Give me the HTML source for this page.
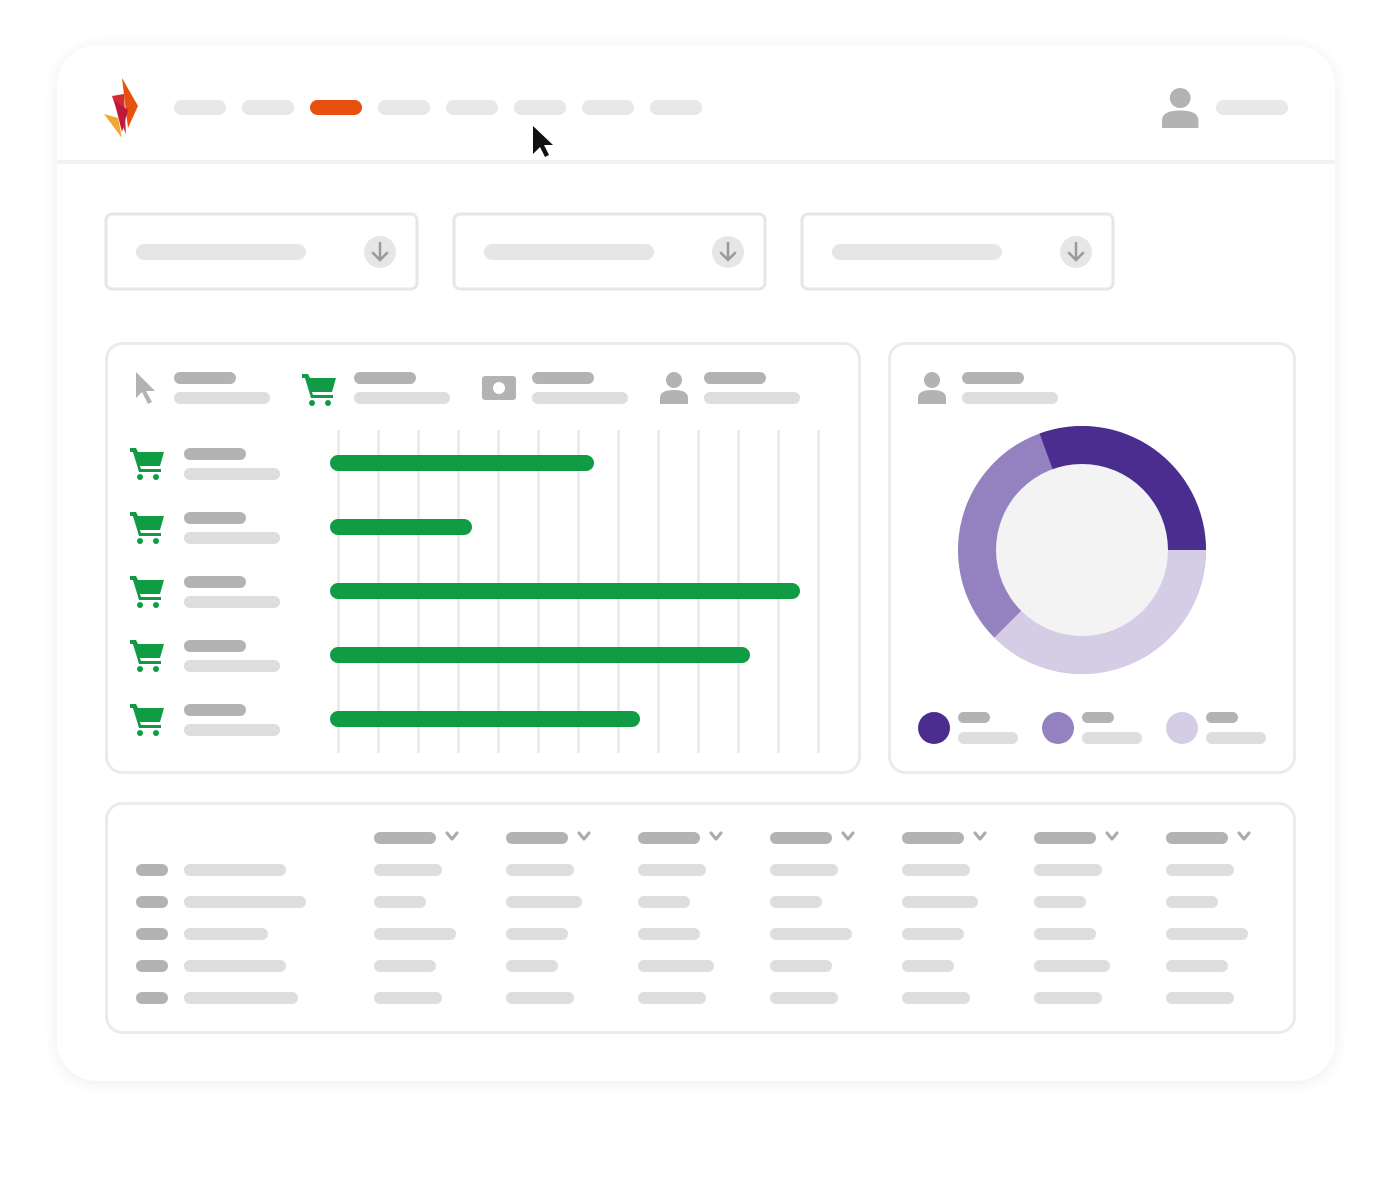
<!DOCTYPE html>
<html><head><meta charset="utf-8"><style>
html,body{margin:0;padding:0;background:#fff;width:1400px;height:1200px;overflow:hidden;font-family:"Liberation Sans",sans-serif}
</style></head><body>
<svg width="1400" height="1200" viewBox="0 0 1400 1200" xmlns="http://www.w3.org/2000/svg">
<defs>
<filter id="sh" x="-10%" y="-10%" width="120%" height="120%"><feGaussianBlur stdDeviation="8"/></filter>
<g id="cart" fill="#109c45">
<path d="M0 2 h6 l2 4 h26 l-4 14 h-20 l1 3 h20 v3 h-22 l-6 -20 h-3z"/>
<circle cx="10" cy="31" r="3"/><circle cx="26" cy="31" r="3"/>
</g>
<g id="person" fill="#b3b3b3">
<circle cx="14" cy="8" r="8"/><path d="M0 32 v-6 q0 -8 14 -8 q14 0 14 8 v6z"/>
</g>
</defs>
<rect x="57" y="47" width="1278" height="1036" rx="40" fill="#000" opacity="0.07" filter="url(#sh)"/>
<rect x="57" y="45" width="1278" height="1036" rx="40" fill="#fff"/>
<rect x="57" y="160" width="1278" height="4" fill="#f2f2f2"/>
<!-- logo -->
<path d="M104 114 l14 4 l4 20 z" fill="#f2a531"/>
<path d="M112 96 l12 -2 l2 40 l-6 -14z" fill="#d42a36"/>
<path d="M122 78 l16 28 l-10 22 z" fill="#e8500e"/>
<path d="M114 100 l14 10 l-6 22 z" fill="#c0173c"/>
<!-- nav -->
<g fill="#e8e8e8">
<rect x="174" y="100" width="52" height="15" rx="7.5"/>
<rect x="242" y="100" width="52" height="15" rx="7.5"/>
<rect x="378" y="100" width="52" height="15" rx="7.5"/>
<rect x="446" y="100" width="52" height="15" rx="7.5"/>
<rect x="514" y="100" width="52" height="15" rx="7.5"/>
<rect x="582" y="100" width="52" height="15" rx="7.5"/>
<rect x="650" y="100" width="52" height="15" rx="7.5"/>
<rect x="1216" y="100" width="72" height="15" rx="7.5"/>
</g>
<rect x="310" y="100" width="52" height="15" rx="7.5" fill="#e8500e"/>
<g transform="translate(1162,88) scale(1.3,1.25)"><use href="#person" fill="#c4c4c4"/></g>
<path d="M533 126 v28 l7 -7 l5 10 l4 -2 l-5 -10 h9 z" fill="#111"/>
<!-- dropdowns -->
<g fill="none" stroke="#e6e6e6" stroke-width="3">
<rect x="106" y="214" width="311" height="75" rx="6"/>
<rect x="454" y="214" width="311" height="75" rx="6"/>
<rect x="802" y="214" width="311" height="75" rx="6"/>
</g>
<g fill="#e6e6e6">
<rect x="136" y="244" width="170" height="16" rx="8"/>
<rect x="484" y="244" width="170" height="16" rx="8"/>
<rect x="832" y="244" width="170" height="16" rx="8"/>
<circle cx="380" cy="252" r="16"/><circle cx="728" cy="252" r="16"/><circle cx="1076" cy="252" r="16"/>
</g>
<g stroke="#9a9a9a" stroke-width="2.5" fill="none" stroke-linecap="round">
<path d="M380 243 v16 M373 253 l7 7 l7 -7"/>
<path d="M728 243 v16 M721 253 l7 7 l7 -7"/>
<path d="M1076 243 v16 M1069 253 l7 7 l7 -7"/>
</g>
<!-- panel 1 -->
<rect x="106.5" y="343.5" width="753" height="429" rx="16" fill="none" stroke="#ebebeb" stroke-width="3"/>
<path d="M136 372 v26 l6 -6 l6 12 l4 -2 l-6 -11 h9 z" fill="#b3b3b3"/>
<g transform="translate(302,372)"><use href="#cart"/></g>
<rect x="482" y="376" width="34" height="24" rx="3" fill="#b3b3b3"/>
<circle cx="499" cy="388" r="6" fill="#fff"/>
<g transform="translate(660,372)"><use href="#person"/></g>
<g fill="#b3b3b3">
<rect x="174" y="372" width="62" height="12" rx="6"/><rect x="354" y="372" width="62" height="12" rx="6"/>
<rect x="532" y="372" width="62" height="12" rx="6"/><rect x="704" y="372" width="62" height="12" rx="6"/>
</g>
<g fill="#dedede">
<rect x="174" y="392" width="96" height="12" rx="6"/><rect x="354" y="392" width="96" height="12" rx="6"/>
<rect x="532" y="392" width="96" height="12" rx="6"/><rect x="704" y="392" width="96" height="12" rx="6"/>
</g>
<g fill="#ebebeb">
<rect x="337" y="430" width="3" height="323"/><rect x="377" y="430" width="3" height="323"/>
<rect x="417" y="430" width="3" height="323"/><rect x="457" y="430" width="3" height="323"/>
<rect x="497" y="430" width="3" height="323"/><rect x="537" y="430" width="3" height="323"/>
<rect x="577" y="430" width="3" height="323"/><rect x="617" y="430" width="3" height="323"/>
<rect x="657" y="430" width="3" height="323"/><rect x="697" y="430" width="3" height="323"/>
<rect x="737" y="430" width="3" height="323"/><rect x="777" y="430" width="3" height="323"/>
<rect x="817" y="430" width="3" height="323"/>
</g>
<g transform="translate(130,446)"><use href="#cart"/></g>
<g transform="translate(130,510)"><use href="#cart"/></g>
<g transform="translate(130,574)"><use href="#cart"/></g>
<g transform="translate(130,638)"><use href="#cart"/></g>
<g transform="translate(130,702)"><use href="#cart"/></g>
<g fill="#b3b3b3">
<rect x="184" y="448" width="62" height="12" rx="6"/><rect x="184" y="512" width="62" height="12" rx="6"/>
<rect x="184" y="576" width="62" height="12" rx="6"/><rect x="184" y="640" width="62" height="12" rx="6"/>
<rect x="184" y="704" width="62" height="12" rx="6"/>
</g>
<g fill="#dedede">
<rect x="184" y="468" width="96" height="12" rx="6"/><rect x="184" y="532" width="96" height="12" rx="6"/>
<rect x="184" y="596" width="96" height="12" rx="6"/><rect x="184" y="660" width="96" height="12" rx="6"/>
<rect x="184" y="724" width="96" height="12" rx="6"/>
</g>
<g fill="#109c45">
<rect x="330" y="455" width="264" height="16" rx="8"/>
<rect x="330" y="519" width="142" height="16" rx="8"/>
<rect x="330" y="583" width="470" height="16" rx="8"/>
<rect x="330" y="647" width="420" height="16" rx="8"/>
<rect x="330" y="711" width="310" height="16" rx="8"/>
</g>
<!-- panel 2 -->
<rect x="889.5" y="343.5" width="405" height="429" rx="16" fill="none" stroke="#ebebeb" stroke-width="3"/>
<g transform="translate(918,372)"><use href="#person"/></g>
<rect x="962" y="372" width="62" height="12" rx="6" fill="#b3b3b3"/>
<rect x="962" y="392" width="96" height="12" rx="6" fill="#dedede"/>
<circle cx="1082" cy="550" r="124" fill="#9482c0"/>
<path d="M1082 550 L1206 550 A124 124 0 0 1 994.3 637.7 Z" fill="#d5cce5"/>
<path d="M1082 550 L1039.6 433.5 A124 124 0 0 1 1206 550 Z" fill="#4b2d8f"/>
<circle cx="1082" cy="550" r="86" fill="#f3f3f3"/>
<circle cx="934" cy="728" r="16" fill="#4b2d8f"/>
<circle cx="1058" cy="728" r="16" fill="#9482c0"/>
<circle cx="1182" cy="728" r="16" fill="#d5cce5"/>
<g fill="#b3b3b3">
<rect x="958" y="712" width="32" height="11" rx="5.5"/><rect x="1082" y="712" width="32" height="11" rx="5.5"/><rect x="1206" y="712" width="32" height="11" rx="5.5"/>
</g>
<g fill="#dedede">
<rect x="958" y="732" width="60" height="12" rx="6"/><rect x="1082" y="732" width="60" height="12" rx="6"/><rect x="1206" y="732" width="60" height="12" rx="6"/>
</g>
<!-- panel 3 -->
<rect x="106.5" y="803.5" width="1188" height="229" rx="16" fill="none" stroke="#ebebeb" stroke-width="3"/>
<g fill="#b3b3b3">
<rect x="374" y="832" width="62" height="12" rx="6"/><rect x="506" y="832" width="62" height="12" rx="6"/>
<rect x="638" y="832" width="62" height="12" rx="6"/><rect x="770" y="832" width="62" height="12" rx="6"/>
<rect x="902" y="832" width="62" height="12" rx="6"/><rect x="1034" y="832" width="62" height="12" rx="6"/>
<rect x="1166" y="832" width="62" height="12" rx="6"/>
<rect x="136" y="864" width="32" height="12" rx="6"/><rect x="136" y="896" width="32" height="12" rx="6"/>
<rect x="136" y="928" width="32" height="12" rx="6"/><rect x="136" y="960" width="32" height="12" rx="6"/>
<rect x="136" y="992" width="32" height="12" rx="6"/>
</g>
<g stroke="#aaa" stroke-width="3" fill="none" stroke-linecap="round" stroke-linejoin="round">
<path d="M447 833 l5 6 l5 -6"/><path d="M579 833 l5 6 l5 -6"/><path d="M711 833 l5 6 l5 -6"/>
<path d="M843 833 l5 6 l5 -6"/><path d="M975 833 l5 6 l5 -6"/><path d="M1107 833 l5 6 l5 -6"/>
<path d="M1239 833 l5 6 l5 -6"/>
</g>
<g fill="#dedede">
<rect x="184" y="864" width="102" height="12" rx="6"/><rect x="184" y="896" width="122" height="12" rx="6"/>
<rect x="184" y="928" width="84" height="12" rx="6"/><rect x="184" y="960" width="102" height="12" rx="6"/>
<rect x="184" y="992" width="114" height="12" rx="6"/>
<!-- row1 -->
<rect x="374" y="864" width="68" height="12" rx="6"/><rect x="506" y="864" width="68" height="12" rx="6"/>
<rect x="638" y="864" width="68" height="12" rx="6"/><rect x="770" y="864" width="68" height="12" rx="6"/>
<rect x="902" y="864" width="68" height="12" rx="6"/><rect x="1034" y="864" width="68" height="12" rx="6"/>
<rect x="1166" y="864" width="68" height="12" rx="6"/>
<!-- row2 -->
<rect x="374" y="896" width="52" height="12" rx="6"/><rect x="506" y="896" width="76" height="12" rx="6"/>
<rect x="638" y="896" width="52" height="12" rx="6"/><rect x="770" y="896" width="52" height="12" rx="6"/>
<rect x="902" y="896" width="76" height="12" rx="6"/><rect x="1034" y="896" width="52" height="12" rx="6"/>
<rect x="1166" y="896" width="52" height="12" rx="6"/>
<!-- row3 -->
<rect x="374" y="928" width="82" height="12" rx="6"/><rect x="506" y="928" width="62" height="12" rx="6"/>
<rect x="638" y="928" width="62" height="12" rx="6"/><rect x="770" y="928" width="82" height="12" rx="6"/>
<rect x="902" y="928" width="62" height="12" rx="6"/><rect x="1034" y="928" width="62" height="12" rx="6"/>
<rect x="1166" y="928" width="82" height="12" rx="6"/>
<!-- row4 -->
<rect x="374" y="960" width="62" height="12" rx="6"/><rect x="506" y="960" width="52" height="12" rx="6"/>
<rect x="638" y="960" width="76" height="12" rx="6"/><rect x="770" y="960" width="62" height="12" rx="6"/>
<rect x="902" y="960" width="52" height="12" rx="6"/><rect x="1034" y="960" width="76" height="12" rx="6"/>
<rect x="1166" y="960" width="62" height="12" rx="6"/>
<!-- row5 -->
<rect x="374" y="992" width="68" height="12" rx="6"/><rect x="506" y="992" width="68" height="12" rx="6"/>
<rect x="638" y="992" width="68" height="12" rx="6"/><rect x="770" y="992" width="68" height="12" rx="6"/>
<rect x="902" y="992" width="68" height="12" rx="6"/><rect x="1034" y="992" width="68" height="12" rx="6"/>
<rect x="1166" y="992" width="68" height="12" rx="6"/>
</g>
</svg>
</body></html>
